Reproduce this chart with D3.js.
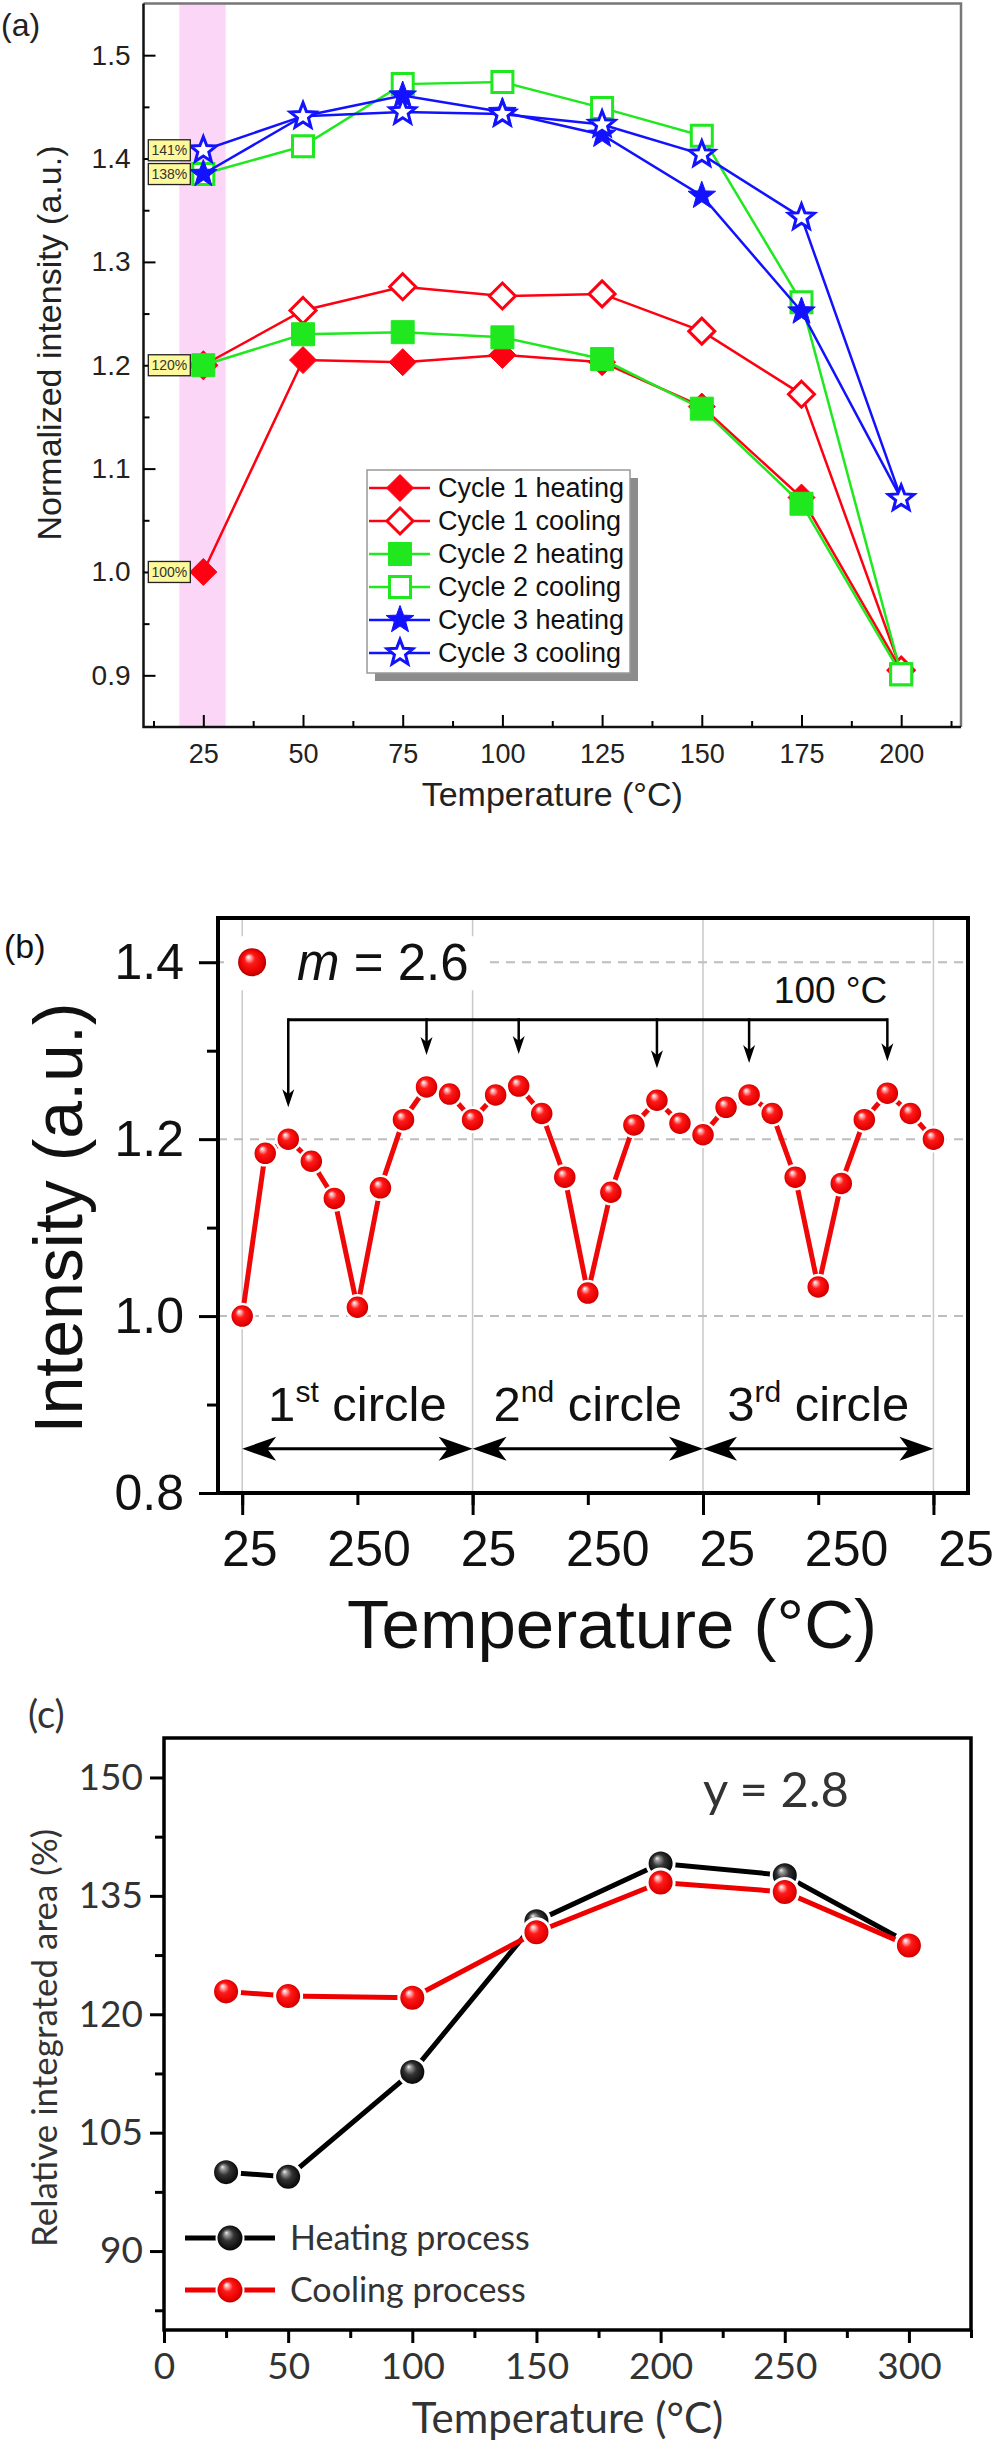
<!DOCTYPE html>
<html>
<head>
<meta charset="utf-8">
<title>Cycling intensity</title>
<script src="https://cdn.jsdelivr.net/npm/d3@7"></script>
<style>
  html, body { margin: 0; padding: 0; background: #fff; }
  svg { display: block; }
</style>
</head>
<body>
<div id="chart"></div>
<script>
(function() {
    'use strict';

    // ---------- panel (a) data ----------
    var tempsA = [25, 50, 75, 100, 125, 150, 175, 200];
    var cycle1Heating = [1.000, 1.205, 1.203, 1.210, 1.203, 1.160, 1.072, 0.905];
    var cycle1Cooling = [1.200, 1.253, 1.276, 1.267, 1.269, 1.233, 1.172, 0.905];
    var cycle2Heating = [1.200, 1.230, 1.232, 1.227, 1.206, 1.158, 1.066, 0.901];
    var cycle2Cooling = [1.385, 1.412, 1.472, 1.474, 1.449, 1.422, 1.261, 0.901];
    var cycle3Heating = [1.385, 1.441, 1.461, 1.445, 1.423, 1.364, 1.252, 1.071];
    var cycle3Cooling = [1.408, 1.441, 1.445, 1.443, 1.433, 1.404, 1.343, 1.071];
    var seriesNamesA = ['Cycle 1 heating', 'Cycle 1 cooling', 'Cycle 2 heating',
                        'Cycle 2 cooling', 'Cycle 3 heating', 'Cycle 3 cooling'];
    var percentText = ['141%', '138%', '120%', '100%'];
    var percentValue = [1.408, 1.385, 1.200, 1.000];
    var bandA = [19, 30.6];
    var xTicksA = [25, 50, 75, 100, 125, 150, 175, 200];
    var xMinorA = [12.5, 37.5, 62.5, 87.5, 112.5, 137.5, 162.5, 187.5, 212.5];
    var yTicksA = [0.9, 1.0, 1.1, 1.2, 1.3, 1.4, 1.5];
    var yMinorA = [0.95, 1.05, 1.15, 1.25, 1.35, 1.45];

    // ---------- panel (b) data ----------
    var intensityB = [1.000, 1.184, 1.200, 1.175, 1.133, 1.010, 1.145, 1.222, 1.259, 1.251,
                      1.222, 1.250, 1.260, 1.229, 1.157, 1.026, 1.140, 1.216, 1.244, 1.218,
                      1.205, 1.236, 1.250, 1.229, 1.157, 1.033, 1.150, 1.222, 1.252, 1.229,
                      1.200];
    var xTicksB = [0, 5, 10, 15, 20, 25, 30];
    var xLabelsB = ['25', '250', '25', '250', '25', '250', '25'];
    var cycleStartsB = [0, 10, 20, 30];
    var yTicksB = [0.8, 1.0, 1.2, 1.4];
    var yMinorB = [0.9, 1.1, 1.3];
    var marked100B = [2, 8, 12, 18, 22, 28];
    var circleNumB = ['1', '2', '3'];
    var circleSupB = ['st', 'nd', 'rd'];

    // ---------- panel (c) data ----------
    var tempsC = [25, 50, 100, 150, 200, 250, 300];
    var heatingC = [100.0, 99.4, 112.7, 131.8, 139.1, 137.6, 129.0];
    var coolingC = [122.9, 122.3, 122.1, 130.4, 136.7, 135.5, 128.7];
    var xTicksC = [0, 50, 100, 150, 200, 250, 300];
    var xMinorC = [25, 75, 125, 175, 225, 275, 325];
    var yTicksC = [90, 105, 120, 135, 150];
    var yMinorC = [82.5, 97.5, 112.5, 127.5, 142.5];

    var ARIAL = "'Liberation Sans', Arial, sans-serif";
    var CALIBRI = "Lato, 'Open Sans', sans-serif";

    var svg = d3.select('#chart').append('svg')
        .attr('width', 1000)
        .attr('height', 2444)
        .attr('viewBox', '0 0 1000 2444');

    svg.append('rect').attr('width', 1000).attr('height', 2444).attr('fill', '#fff');

    var defs = svg.append('defs');
    ball('redBall', [[0, '#ffffff'], [0.14, '#ffb3b3'], [0.38, '#ff1a1a'], [0.8, '#e60000'], [1, '#b00000']]);
    ball('blackBall', [[0, '#f2f2f2'], [0.16, '#9a9a9a'], [0.45, '#333333'], [1, '#000000']]);

    panelA();
    panelB();
    panelC();

    ////////////

    // shaded sphere used by panels (b) and (c)
    function ball(id, stops) {
        var grad = defs.append('radialGradient').attr('id', id)
            .attr('cx', '50%').attr('cy', '50%').attr('r', '50%')
            .attr('fx', '36%').attr('fy', '30%');
        stops.forEach(function(s) {
            grad.append('stop').attr('offset', s[0]).attr('stop-color', s[1]);
        });
    }

    function styleAxis(g, size, family, color, width) {
        g.select('.domain').remove();
        g.attr('font-size', size).attr('font-family', family);
        g.selectAll('.tick line').attr('stroke', '#000').attr('stroke-width', width);
        g.selectAll('.tick text').attr('fill', color);
        // tick-only axes: drop their empty labels
        g.selectAll('.tick text').filter(function() { return this.textContent === ''; }).remove();
    }

    function diamondPath(r) {
        return 'M0,' + (-r) + 'L' + r + ',0L0,' + r + 'L' + (-r) + ',0Z';
    }

    function squarePath(r) {
        return 'M' + (-r) + ',' + (-r) + 'H' + r + 'V' + r + 'H' + (-r) + 'Z';
    }

    function starPath(R, r) {
        var p = [];
        for (var i = 0; i < 10; i++) {
            var a = -Math.PI / 2 + i * Math.PI / 5;
            var rr = i % 2 ? r : R;
            p.push([(rr * Math.cos(a)).toFixed(2), (rr * Math.sin(a)).toFixed(2)]);
        }
        return 'M' + p.join('L') + 'Z';
    }

    function markerPath(s) {
        if (s.shape === 'diamond') { return diamondPath(s.open ? 13 : 13.5); }
        if (s.shape === 'square') { return squarePath(s.open ? 10.5 : 11.5); }
        return s.open ? starPath(13.5, 5.8) : starPath(14.5, 6);
    }

    function drawMarker(sel, s) {
        sel.attr('d', markerPath(s))
            .attr('fill', s.open ? '#fff' : s.color)
            .attr('stroke', s.color)
            .attr('stroke-width', s.open ? 3 : 1)
            .attr('stroke-linejoin', 'miter');
    }

    // ---------------------------------------------------------------- (a)
    function panelA() {
        var x = d3.scaleLinear().domain([10, 215]).range([143.5, 961]);
        var y = d3.scaleLinear().domain([0.85, 1.55]).range([727, 3.5]);
        var x0 = x.range()[0], x1 = x.range()[1], y0 = y.range()[0], y1 = y.range()[1];
        var g = svg.append('g');

        var red = '#ff0012', green = '#1fe81f', blue = '#1212ff';

        // highlighted 25 C column
        g.append('rect')
            .attr('x', x(bandA[0])).attr('y', y1)
            .attr('width', x(bandA[1]) - x(bandA[0])).attr('height', y0 - y1)
            .attr('fill', '#fbd6f7');

        // frame: grey top/right, black left/bottom
        g.append('path').attr('d', 'M' + x0 + ',' + y1 + 'H' + x1 + 'V' + y0)
            .attr('fill', 'none').attr('stroke', '#777').attr('stroke-width', 2.5);
        g.append('path').attr('d', 'M' + x0 + ',' + y1 + 'V' + y0 + 'H' + x1)
            .attr('fill', 'none').attr('stroke', '#111').attr('stroke-width', 2.5);

        var ax = g.append('g').attr('transform', 'translate(0,' + y0 + ')')
            .call(d3.axisBottom(x).tickValues(xTicksA).tickSize(-12).tickPadding(17));
        styleAxis(ax, 27, ARIAL, '#222', 2);
        var axm = g.append('g').attr('transform', 'translate(0,' + y0 + ')')
            .call(d3.axisBottom(x).tickValues(xMinorA).tickSize(-6).tickFormat(''));
        styleAxis(axm, 27, ARIAL, '#222', 2);

        var ay = g.append('g').attr('transform', 'translate(' + x0 + ',0)')
            .call(d3.axisLeft(y).tickValues(yTicksA).tickSize(-12).tickPadding(13)
                .tickFormat(d3.format('.1f')));
        styleAxis(ay, 28, ARIAL, '#222', 2);
        var aym = g.append('g').attr('transform', 'translate(' + x0 + ',0)')
            .call(d3.axisLeft(y).tickValues(yMinorA).tickSize(-6).tickFormat(''));
        styleAxis(aym, 28, ARIAL, '#222', 2);

        var series = [
            {values: cycle1Heating, color: red, shape: 'diamond', open: false},
            {values: cycle1Cooling, color: red, shape: 'diamond', open: true},
            {values: cycle2Heating, color: green, shape: 'square', open: false},
            {values: cycle2Cooling, color: green, shape: 'square', open: true},
            {values: cycle3Heating, color: blue, shape: 'star', open: false},
            {values: cycle3Cooling, color: blue, shape: 'star', open: true}
        ];
        series.forEach(function(s, k) { s.name = seriesNamesA[k]; });

        var line = d3.line()
            .x(function(d, i) { return x(tempsA[i]); })
            .y(function(d) { return y(d); });

        series.forEach(function(s) {
            g.append('path').datum(s.values).attr('d', line)
                .attr('fill', 'none').attr('stroke', s.color).attr('stroke-width', 2.5);
            g.selectAll(null).data(s.values).enter().append('path')
                .attr('transform', function(d, i) { return 'translate(' + x(tempsA[i]) + ',' + y(d) + ')'; })
                .call(drawMarker, s);
        });

        // percentage tags at 25 C
        var tags = g.selectAll(null).data(percentValue).enter().append('g')
            .attr('transform', function(d) { return 'translate(' + (x(25) - 34) + ',' + y(d) + ')'; });
        tags.append('rect').attr('x', -21).attr('y', -10.5).attr('width', 42).attr('height', 21)
            .attr('fill', '#fdf99a').attr('stroke', '#222').attr('stroke-width', 1.3);
        tags.append('text').attr('text-anchor', 'middle').attr('dy', '0.36em')
            .attr('font-family', ARIAL).attr('font-size', 14).attr('fill', '#333')
            .text(function(d, i) { return percentText[i]; });

        // legend with drop shadow
        var lx = 367, ly = 470, lw = 263, lh = 203;
        g.append('rect').attr('x', lx + 8).attr('y', ly + 8).attr('width', lw).attr('height', lh)
            .attr('fill', '#8c8c8c');
        g.append('rect').attr('x', lx).attr('y', ly).attr('width', lw).attr('height', lh)
            .attr('fill', '#fff').attr('stroke', '#999').attr('stroke-width', 1.5);
        var rows = g.selectAll(null).data(series).enter().append('g')
            .attr('transform', function(d, i) { return 'translate(' + lx + ',' + (ly + 18 + i * 33) + ')'; });
        rows.append('line').attr('x1', 2).attr('x2', 63)
            .attr('stroke', function(d) { return d.color; }).attr('stroke-width', 2.5);
        rows.each(function(s) {
            d3.select(this).append('path').attr('transform', 'translate(33,0)').call(drawMarker, s);
        });
        rows.append('text').attr('x', 71).attr('dy', '0.35em')
            .attr('font-family', ARIAL).attr('font-size', 27).attr('fill', '#111')
            .text(function(d) { return d.name; });

        // titles
        g.append('text').attr('x', (x0 + x1) / 2).attr('y', 806).attr('text-anchor', 'middle')
            .attr('font-family', ARIAL).attr('font-size', 34).attr('fill', '#222')
            .text('Temperature (\u00B0C)');
        g.append('text').attr('transform', 'translate(61,343) rotate(-90)').attr('text-anchor', 'middle')
            .attr('font-family', ARIAL).attr('font-size', 34).attr('fill', '#222')
            .text('Normalized intensity (a.u.)');
        g.append('text').attr('x', 1).attr('y', 36)
            .attr('font-family', ARIAL).attr('font-size', 32).attr('fill', '#222')
            .text('(a)');
    }

    // ---------------------------------------------------------------- (b)
    function panelB() {
        var x = d3.scaleLinear().domain([-1.05, 31.5]).range([218, 968]);
        var y = d3.scaleLinear().domain([0.8, 1.45]).range([1493, 918]);
        // the printed tick labels drift slightly right of their ticks
        var xLabel = d3.scaleLinear().domain([0, 30]).range([x(0) + 7, x(30) + 32]);
        var x0 = x.range()[0], x1 = x.range()[1], y0 = y.range()[0], y1 = y.range()[1];
        var g = svg.append('g');
        var red = '#ee0808';

        // grid: solid verticals at each 25 C, dashed horizontals
        g.selectAll(null).data(cycleStartsB).enter().append('line')
            .attr('x1', function(d) { return x(d); }).attr('x2', function(d) { return x(d); })
            .attr('y1', y1).attr('y2', y0)
            .attr('stroke', '#c9c9c9').attr('stroke-width', 1.5);
        g.selectAll(null).data(yTicksB.slice(1)).enter().append('line')
            .attr('x1', x0).attr('x2', x1)
            .attr('y1', function(d) { return y(d); }).attr('y2', function(d) { return y(d); })
            .attr('stroke', '#bdbdbd').attr('stroke-width', 2).attr('stroke-dasharray', '9,7');

        var ax = g.append('g').attr('transform', 'translate(0,' + y0 + ')')
            .call(d3.axisBottom(x).tickValues(xTicksB).tickSize(12).tickFormat(''));
        styleAxis(ax, 50, ARIAL, '#111', 3);
        var axl = g.append('g').attr('transform', 'translate(0,' + y0 + ')')
            .call(d3.axisBottom(x).tickValues(cycleStartsB).tickSize(22).tickFormat(''));
        styleAxis(axl, 50, ARIAL, '#111', 3);
        var axt = g.append('g').attr('transform', 'translate(0,' + y0 + ')')
            .call(d3.axisBottom(xLabel).tickValues(xTicksB).tickSize(0).tickPadding(37)
                .tickFormat(function(d) { return xLabelsB[xTicksB.indexOf(d)]; }));
        styleAxis(axt, 50, ARIAL, '#111', 0);
        axt.selectAll('.tick line').remove();

        var ay = g.append('g').attr('transform', 'translate(' + x0 + ',0)')
            .call(d3.axisLeft(y).tickValues(yTicksB).tickSize(19).tickPadding(15)
                .tickFormat(d3.format('.1f')));
        styleAxis(ay, 50, ARIAL, '#111', 3);
        var aym = g.append('g').attr('transform', 'translate(' + x0 + ',0)')
            .call(d3.axisLeft(y).tickValues(yMinorB).tickSize(11).tickFormat(''));
        styleAxis(aym, 50, ARIAL, '#111', 3);

        g.append('rect').attr('x', x0).attr('y', y1).attr('width', x1 - x0).attr('height', y0 - y1)
            .attr('fill', 'none').attr('stroke', '#000').attr('stroke-width', 4);

        // 100 C markers: bracket with down arrows
        var yBr = y(1.335);
        g.append('line')
            .attr('x1', x(marked100B[0])).attr('x2', x(marked100B[marked100B.length - 1]))
            .attr('y1', yBr).attr('y2', yBr)
            .attr('stroke', '#000').attr('stroke-width', 3);
        marked100B.forEach(function(i) {
            var tip = y(intensityB[i]) - 32;
            g.append('line').attr('x1', x(i)).attr('x2', x(i)).attr('y1', yBr - 1.5).attr('y2', tip - 10)
                .attr('stroke', '#000').attr('stroke-width', 2.5);
            g.append('path').attr('d', 'M0,0L-6,-18L0,-13L6,-18Z')
                .attr('transform', 'translate(' + x(i) + ',' + tip + ')')
                .attr('fill', '#000');
        });
        g.append('text').attr('x', x(marked100B[marked100B.length - 1])).attr('y', yBr - 17)
            .attr('text-anchor', 'end').attr('font-family', ARIAL).attr('font-size', 37).attr('fill', '#111')
            .text('100 \u00B0C');

        // cycle spans with double arrows
        var yAr = y(0.85);
        for (var c = 0; c < 3; c++) {
            var a = x(cycleStartsB[c]), b = x(cycleStartsB[c + 1]);
            g.append('line').attr('x1', a + 20).attr('x2', b - 20).attr('y1', yAr).attr('y2', yAr)
                .attr('stroke', '#000').attr('stroke-width', 3);
            g.append('path').attr('d', 'M0,0L34,-12L25,0L34,12Z')
                .attr('transform', 'translate(' + a + ',' + yAr + ')').attr('fill', '#000');
            g.append('path').attr('d', 'M0,0L-34,-12L-25,0L-34,12Z')
                .attr('transform', 'translate(' + b + ',' + yAr + ')').attr('fill', '#000');
            var t = g.append('text').attr('x', (a + b) / 2).attr('y', yAr - 28)
                .attr('text-anchor', 'middle').attr('font-family', ARIAL).attr('font-size', 49).attr('fill', '#111');
            t.append('tspan').text(circleNumB[c]);
            t.append('tspan').attr('dy', -19).attr('font-size', 30).text(circleSupB[c]);
            t.append('tspan').attr('dy', 19).text(' circle');
        }

        // data
        var line = d3.line()
            .x(function(d, i) { return x(i); })
            .y(function(d) { return y(d); });
        g.append('path').datum(intensityB).attr('d', line)
            .attr('fill', 'none').attr('stroke', red).attr('stroke-width', 5);
        g.selectAll(null).data(intensityB).enter().append('circle')
            .attr('cx', function(d, i) { return x(i); })
            .attr('cy', function(d) { return y(d); })
            .attr('r', 12)
            .attr('fill', 'url(#redBall)').attr('stroke', '#fff').attr('stroke-width', 2.5);

        // legend
        g.append('rect').attr('x', x0 + 6).attr('y', y(1.4) - 26).attr('width', 262).attr('height', 54)
            .attr('fill', '#fff');
        g.append('circle').attr('cx', x(0.43)).attr('cy', y(1.4)).attr('r', 14)
            .attr('fill', 'url(#redBall)');
        var lt = g.append('text').attr('x', x(0.43) + 45).attr('y', y(1.4) + 18)
            .attr('font-family', ARIAL).attr('font-size', 51).attr('fill', '#111');
        lt.append('tspan').attr('font-style', 'italic').text('m');
        lt.append('tspan').text(' = 2.6');

        // titles
        g.append('text').attr('x', 612).attr('y', 1648).attr('text-anchor', 'middle')
            .attr('font-family', ARIAL).attr('font-size', 69).attr('fill', '#111')
            .text('Temperature (\u00B0C)');
        g.append('text').attr('transform', 'translate(82,1218) rotate(-90)').attr('text-anchor', 'middle')
            .attr('font-family', ARIAL).attr('font-size', 68).attr('fill', '#111')
            .text('Intensity (a.u.)');
        g.append('text').attr('x', 4).attr('y', 958)
            .attr('font-family', ARIAL).attr('font-size', 34).attr('fill', '#111')
            .text('(b)');
    }

    // ---------------------------------------------------------------- (c)
    function panelC() {
        var x = d3.scaleLinear().domain([0, 325]).range([164, 971]);
        var y = d3.scaleLinear().domain([80, 155]).range([2330, 1738]);
        var x0 = x.range()[0], x1 = x.range()[1], y0 = y.range()[0], y1 = y.range()[1];
        var g = svg.append('g');
        var textCol = '#333';

        var ax = g.append('g').attr('transform', 'translate(0,' + y0 + ')')
            .call(d3.axisBottom(x).tickValues(xTicksC).tickSize(13).tickPadding(10));
        styleAxis(ax, 37, CALIBRI, textCol, 3);
        var axm = g.append('g').attr('transform', 'translate(0,' + y0 + ')')
            .call(d3.axisBottom(x).tickValues(xMinorC).tickSize(8).tickFormat(''));
        styleAxis(axm, 37, CALIBRI, textCol, 3);

        var ay = g.append('g').attr('transform', 'translate(' + x0 + ',0)')
            .call(d3.axisLeft(y).tickValues(yTicksC).tickSize(14).tickPadding(7));
        styleAxis(ay, 37, CALIBRI, textCol, 3);
        var aym = g.append('g').attr('transform', 'translate(' + x0 + ',0)')
            .call(d3.axisLeft(y).tickValues(yMinorC).tickSize(9).tickFormat(''));
        styleAxis(aym, 37, CALIBRI, textCol, 3);

        g.append('rect').attr('x', x0).attr('y', y1).attr('width', x1 - x0).attr('height', y0 - y1)
            .attr('fill', 'none').attr('stroke', '#000').attr('stroke-width', 3.5);

        var series = [
            {values: heatingC, stroke: '#000', fill: 'url(#blackBall)', name: 'Heating process'},
            {values: coolingC, stroke: '#ee0000', fill: 'url(#redBall)', name: 'Cooling process'}
        ];
        var line = d3.line()
            .x(function(d, i) { return x(tempsC[i]); })
            .y(function(d) { return y(d); });

        series.forEach(function(s) {
            g.append('path').datum(s.values).attr('d', line)
                .attr('fill', 'none').attr('stroke', s.stroke).attr('stroke-width', 5);
            g.selectAll(null).data(s.values).enter().append('circle')
                .attr('cx', function(d, i) { return x(tempsC[i]); })
                .attr('cy', function(d) { return y(d); })
                .attr('r', 13.5)
                .attr('fill', s.fill).attr('stroke', '#fff').attr('stroke-width', 3);
        });

        // legend
        var rows = g.selectAll(null).data(series).enter().append('g')
            .attr('transform', function(d, i) { return 'translate(185,' + (2238 + i * 52) + ')'; });
        rows.append('line').attr('x1', 0).attr('x2', 90)
            .attr('stroke', function(d) { return d.stroke; }).attr('stroke-width', 5);
        rows.append('circle').attr('cx', 45).attr('r', 13.5)
            .attr('fill', function(d) { return d.fill; }).attr('stroke', '#fff').attr('stroke-width', 2);
        rows.append('text').attr('x', 105).attr('dy', '0.35em')
            .attr('font-family', CALIBRI).attr('font-size', 34).attr('fill', textCol)
            .text(function(d) { return d.name; });

        g.append('text').attr('x', 703).attr('y', 1807)
            .attr('font-family', CALIBRI).attr('font-size', 49).attr('fill', textCol)
            .text('y = 2.8');

        // titles
        g.append('text').attr('x', (x0 + x1) / 2).attr('y', 2433).attr('text-anchor', 'middle')
            .attr('font-family', CALIBRI).attr('font-size', 42).attr('fill', textCol)
            .text('Temperature (\u00B0C)');
        g.append('text').attr('transform', 'translate(57,2038) rotate(-90)').attr('text-anchor', 'middle')
            .attr('font-family', CALIBRI).attr('font-size', 35).attr('fill', textCol)
            .text('Relative integrated area (%)');
        g.append('text').attr('x', 28).attr('y', 1728)
            .attr('font-family', CALIBRI).attr('font-size', 38).attr('fill', textCol)
            .text('(c)');
    }
})();
</script>
</body>
</html>
